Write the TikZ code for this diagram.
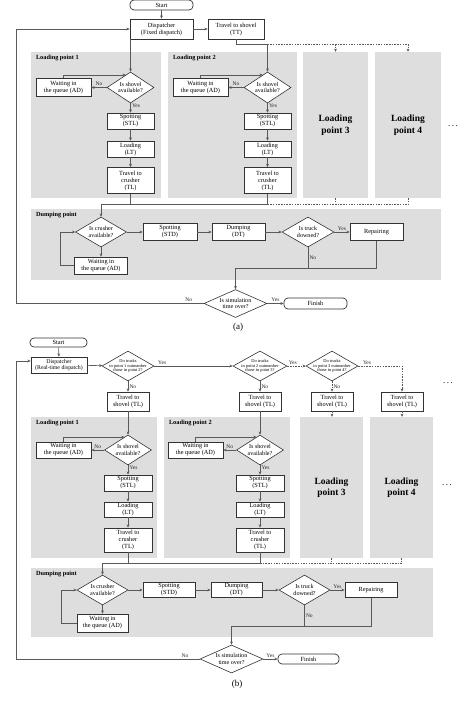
\documentclass[tikz,border=0pt]{standalone}
\usepackage{fontspec}
\setmainfont{Liberation Serif}
\usetikzlibrary{shapes.geometric,arrows.meta,calc}

\begin{document}
\begin{tikzpicture}[x=1pt,y=-1pt,
    >={Stealth[length=3.2pt,width=2.8pt]},
    every node/.style={inner sep=0pt, align=center},
    sz/.style 2 args={minimum width=#1, minimum height=#2},
    ln/.style={draw=black!65, line width=0.6pt},
    arr/.style={ln,->},
    dsh/.style={ln, dash pattern=on 1.5pt off 1.2pt},
    box/.style={draw=black!80, fill=white, line width=0.7pt, font=\fontsize{6.3}{7}\selectfont},
    term/.style={box, rounded corners=4pt},
    asktext/.style={align=center, font=\fontsize{6.1}{6.8}\selectfont},
    ask/.style n args={3}{diamond, draw=black!80, fill=white, line width=0.6pt, sz={#1}{#2}, label={[asktext]center:#3}},
    panel/.style={fill=black!13},
    lbl/.style={inner sep=1.2pt, font=\fontsize{5.5}{6}\selectfont, text=black!85},
    head/.style={anchor=north west, font=\bfseries\fontsize{6.3}{7}\selectfont},
    big/.style={font=\bfseries\fontsize{9.5}{11.5}\selectfont},
    more/.style={font=\fontsize{9}{9}\selectfont},
  ]
  \useasboundingbox[fill=white] (0,0) rectangle (474,705);

  % (a)
  \node[panel, sz={130}{146}] (lpA1) at (96,125) {};
  \node[panel, sz={129}{146}] (lpA2) at (232.5,125) {};
  \node[panel, big, sz={65}{146}] (lpA3) at (335.5,125) {Loading\\point 3};
  \node[panel, big, sz={66}{146}] (lpA4) at (408,125) {Loading\\point 4};
  \node[panel, sz={410}{71}] (dpA) at (236,244.5) {};
  \node[more] (moreA) at (453,126) {.\,.\,.};

  \node[term, sz={63}{10}] (startA) at (161.5,5) {Start};
  \node[box, sz={63}{20}] (dispA) at (161.5,29) {Dispatcher\\(Fixed dispatch)};
  \node[box, sz={56}{20}] (ttA) at (236,29) {Travel to shovel\\(TT)};

  \foreach \i/\c in {1/130.5,2/267.5} {
    \node[head] (hA\i) at ([shift={(5,3)}]lpA\i.north west) {Loading point \i};
    \node[ask={47}{31}{Is shovel\\available?}] (avA\i) at (\c,87.5) {};
    \node[box, sz={55}{18}] (qA\i) at (\c-67,87.5) {Waiting in\\the queue (AD)};
    \node[box, sz={47}{16}] (stlA\i) at (\c,121) {Spotting\\(STL)};
    \node[box, sz={47}{16}] (ltA\i) at (\c,149) {Loading\\(LT)};
    \node[box, sz={47}{26}] (tlA\i) at (\c,180.5) {Travel to\\crusher\\(TL)};
    \draw[arr] (avA\i.west) -- node[above,lbl]{No} (qA\i.east);
    \draw[arr] (qA\i.north) |- ($(avA\i.north)!0.2!(avA\i.west)$);
    \draw[arr] (avA\i.south) -- node[right,lbl,pos=0.3]{Yes} (stlA\i.north);
    \draw[arr] (stlA\i) -- (ltA\i);
    \draw[arr] (ltA\i) -- (tlA\i);
  }

  \draw[arr] (startA) -- (dispA);
  \draw[arr] (dispA) -- (ttA);
  \draw[arr] (dispA.south -| avA1.north) -- (avA1.north);
  \coordinate (topA) at (0,44);
  \draw[arr] (ttA.south) |- (topA -| avA2.north) -- (avA2.north);
  \draw[dsh] (topA -| avA2.north) -- (topA -| lpA4.north);
  \draw[dsh,->] (topA -| lpA3.north) -- (lpA3.north);
  \draw[dsh,->] (topA -| lpA4.north) -- (lpA4.north);

  \node[head] (hA5) at ([shift={(5,3)}]dpA.north west) {Dumping point};
  \node[ask={51}{30}{Is crusher\\available?}] (cavA) at (101,232) {};
  \node[box, sz={53}{17}] (qdA) at (101,265.5) {Waiting in\\the queue (AD)};
  \node[box, sz={54}{17}] (stdA) at (170,232) {Spotting\\(STD)};
  \node[box, sz={53}{17}] (dtA) at (238.5,232) {Dumping\\(DT)};
  \node[ask={52}{30}{Is truck\\downed?}] (downA) at (308,232) {};
  \node[box, sz={53}{17}] (repA) at (376.5,232) {Repairing};
  \node[ask={63}{28}{Is simulation\\time over?}] (simA) at (235.5,303.5) {};
  \node[term, sz={63}{11}] (finA) at (315.5,303.5) {Finish};

  \coordinate (botA) at (0,204);
  \draw[arr] (tlA1.south) |- (botA -| cavA.north) -- (cavA.north);
  \draw[ln] (tlA2.south) |- (botA -| tlA1.south);
  \draw[dsh] (botA -| tlA2.south) -- (botA -| lpA4.south);
  \draw[dsh] (lpA3.south) -- (botA -| lpA3.south);
  \draw[dsh] (lpA4.south) -- (botA -| lpA4.south);

  \draw[arr] (cavA) -- (qdA);
  \draw[arr] (qdA.west) -- ++(-14,0) |- (cavA.west);
  \draw[arr] (cavA) -- (stdA);
  \draw[arr] (stdA) -- (dtA);
  \draw[arr] (dtA) -- (downA);
  \draw[arr] (downA) -- node[above,lbl]{Yes} (repA);
  \coordinate (mrgA) at (0,268);
  \draw[ln] (downA.south) -- node[right,lbl]{No} (downA.south |- mrgA);
  \draw[arr] (repA.south) |- (mrgA -| simA.north) -- (simA.north);
  \draw[arr] (simA) -- node[above,lbl]{Yes} (finA);
  \coordinate (backA) at (16,0);
  \draw[arr] (simA.west) -| node[above,lbl,pos=0.04]{No} (backA |- dispA.west) -- (dispA.west);
  \node[font=\fontsize{9}{10}\selectfont] (capA) at (238,327) {(a)};

  % (b)
  \node[panel, sz={126}{141}] (lpB1) at (94,487.5) {};
  \node[panel, sz={126}{141}] (lpB2) at (227,487.5) {};
  \node[panel, big, sz={63}{141}] (lpB3) at (331.5,487.5) {Loading\\point 3};
  \node[panel, big, sz={63}{141}] (lpB4) at (401.5,487.5) {Loading\\point 4};
  \node[panel, sz={402}{69}] (dpB) at (232,602.5) {};
  \node[more] (moreB1) at (448,383) {.\,.\,.};
  \node[more] (moreB2) at (447,485) {.\,.\,.};

  \node[term, sz={57}{9}] (startB) at (58.5,342.5) {Start};
  \node[box, sz={56}{16}, font=\fontsize{5.8}{6.6}\selectfont] (dispB) at (59,365) {Dispatcher\\(Real-time dispatch)};
  \begin{scope}[asktext/.append style={font=\fontsize{4.4}{4.9}\selectfont}]
    \node[ask={52}{30}{Do trucks\\in point 1 outnumber\\those in point 2?}] (dB1) at (128,366) {};
    \node[ask={54}{30}{Do trucks\\in point 2 outnumber\\those in point 3?}] (dB2) at (260,366) {};
    \node[ask={52}{30}{Do trucks\\in point 3 outnumber\\those in point 4?}] (dB3) at (332,366) {};
  \end{scope}
  \foreach \i/\c in {1/128,2/260,3/332,4/402}
    \node[box, sz={42}{19}] (tsB\i) at (\c,401.5) {Travel to\\shovel (TL)};

  \draw[arr] (startB) -- (dispB);
  \draw[arr] (dispB) -- (dB1);
  \draw[arr] (dB1) -- node[above,lbl,pos=0.1]{Yes} (dB2);
  \draw[dsh,->] (dB2) -- node[above,lbl,pos=0.3]{Yes} (dB3);
  \draw[dsh,->] (dB3.east) -| node[above,lbl,pos=0.1]{Yes} (tsB4.north);
  \foreach \i in {1,2}
    \draw[arr] (dB\i.south) -- node[right,lbl]{No} (tsB\i.north);
  \draw[dsh,->] (dB3.south) -- node[right,lbl]{No} (tsB3.north);
  \draw[dsh,->] (tsB3.south) -- (tsB3.south |- lpB3.north);
  \draw[dsh,->] (tsB4.south) -- (tsB4.south |- lpB4.north);

  \foreach \i/\c in {1/128,2/260} {
    \node[head] (hB\i) at ([shift={(5,3)}]lpB\i.north west) {Loading point \i};
    \node[ask={47}{30}{Is shovel\\available?}] (avB\i) at (\c,450) {};
    \node[box, sz={55}{16}] (qB\i) at (\c-64.5,450) {Waiting in\\the queue (AD)};
    \node[box, sz={48}{16}] (stlB\i) at (\c,483) {Spotting\\(STL)};
    \node[box, sz={48}{15}] (ltB\i) at (\c,509.5) {Loading\\(LT)};
    \node[box, sz={48}{24}] (tlB\i) at (\c,540) {Travel to\\crusher\\(TL)};
    \draw[arr] (tsB\i) -- (avB\i);
    \draw[arr] (avB\i.west) -- node[above,lbl]{No} (qB\i.east);
    \draw[arr] (qB\i.north) |- ($(avB\i.north)!0.15!(avB\i.west)$);
    \draw[arr] (avB\i.south) -- node[right,lbl,pos=0.3]{Yes} (stlB\i.north);
    \draw[arr] (stlB\i) -- (ltB\i);
    \draw[arr] (ltB\i) -- (tlB\i);
  }

  \node[head] (hB5) at ([shift={(5,3)}]dpB.north west) {Dumping point};
  \node[ask={51}{30}{Is crusher\\available?}] (cavB) at (102.5,590) {};
  \node[box, sz={51}{18}] (qdB) at (102.5,623) {Waiting in\\the queue (AD)};
  \node[box, sz={52}{15}] (stdB) at (169,590) {Spotting\\(STD)};
  \node[box, sz={51}{15}] (dtB) at (236.5,590) {Dumping\\(DT)};
  \node[ask={51}{30}{Is truck\\downed?}] (downB) at (304.5,590) {};
  \node[box, sz={52}{15}] (repB) at (371,590) {Repairing};
  \node[ask={63}{28}{Is simulation\\time over?}] (simB) at (231.5,659) {};
  \node[term, sz={61}{10}] (finB) at (308.5,659) {Finish};

  \coordinate (botB) at (0,563);
  \draw[arr] (tlB1.south) |- (botB -| cavB.north) -- (cavB.north);
  \draw[ln] (tlB2.south) |- (botB -| tlB1.south);
  \draw[dsh] (botB -| tlB2.south) -- (botB -| lpB4.south);
  \draw[dsh] (lpB3.south) -- (botB -| lpB3.south);
  \draw[dsh] (lpB4.south) -- (botB -| lpB4.south);

  \draw[arr] (cavB) -- (qdB);
  \draw[arr] (qdB.west) -- ++(-15,0) |- (cavB.west);
  \draw[arr] (cavB) -- (stdB);
  \draw[arr] (stdB) -- (dtB);
  \draw[arr] (dtB) -- (downB);
  \draw[arr] (downB) -- node[above,lbl]{Yes} (repB);
  \coordinate (mrgB) at (0,626);
  \draw[ln] (downB.south) -- node[right,lbl]{No} (downB.south |- mrgB);
  \draw[arr] (repB.south) |- (mrgB -| simB.north) -- (simB.north);
  \draw[arr] (simB) -- node[above,lbl]{Yes} (finB);
  \coordinate (backB) at (16,0);
  \coordinate (inB) at ([yshift=4pt]dispB.west);
  \draw[arr] (simB.west) -| node[above,lbl,pos=0.04]{No} (backB |- inB) -- (inB);
  \node[font=\fontsize{9}{10}\selectfont] (capB) at (237,684) {(b)};
\end{tikzpicture}
\end{document}
